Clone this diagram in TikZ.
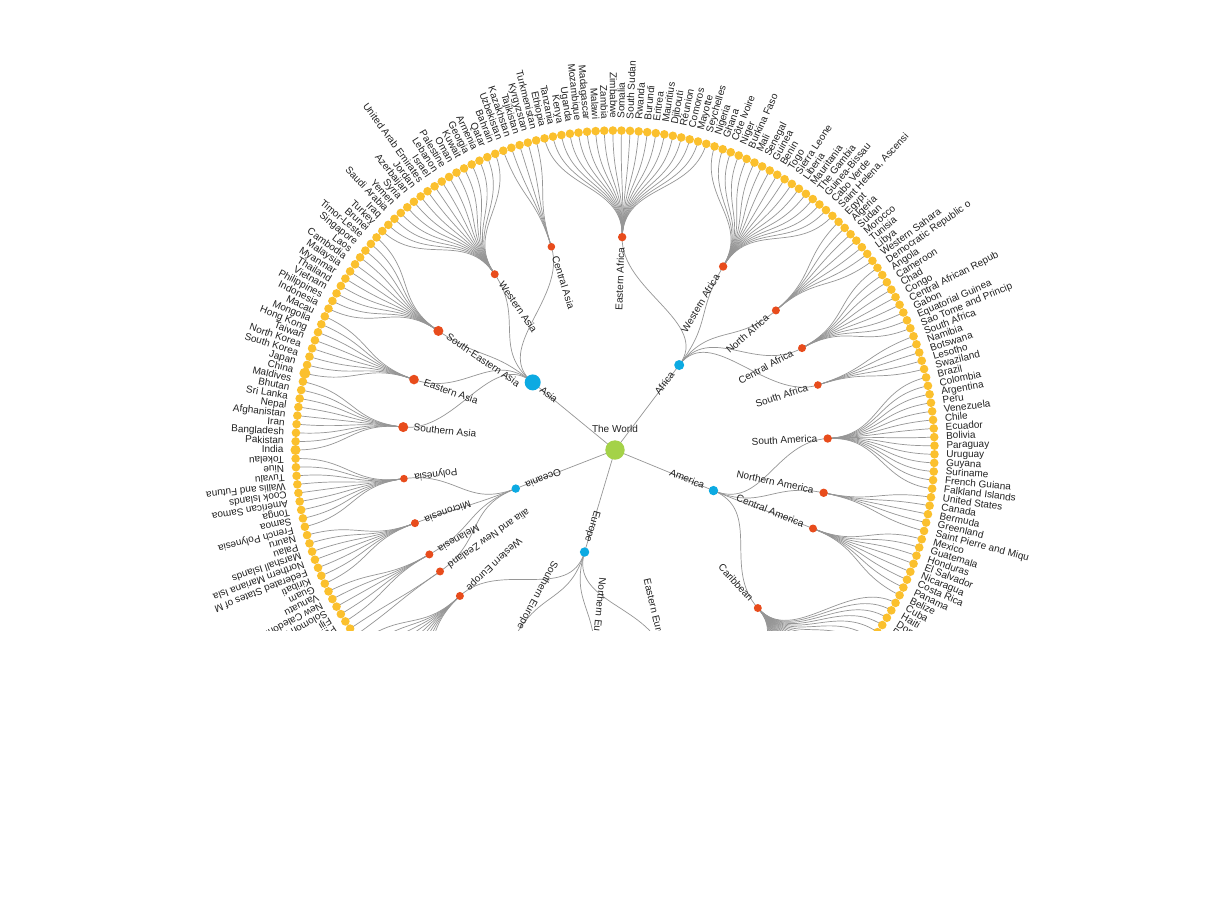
\documentclass[tikz,border=0pt]{standalone}
\usepackage{fontspec}
\setmainfont{Liberation Sans}
\definecolor{leafc}{RGB}{251,192,45}
\definecolor{regc}{RGB}{232,76,28}
\definecolor{contc}{RGB}{12,170,226}
\definecolor{rootc}{RGB}{164,210,72}
\definecolor{linkc}{RGB}{150,150,150}
\definecolor{txtc}{RGB}{34,34,34}
\newcommand\leaflab[2]{%
  \pgfmathsetmacro\lth{180-#1*\st}%
  \pgfmathtruncatemacro\lfl{(\lth>90)&&(\lth<=180.5)}%
  \ifnum\lfl=1
    \node[lab,anchor=mid east,rotate=\lth+180] (lt#1) at (\lth:331.5pt) {#2};%
  \else
    \node[lab,anchor=mid west,rotate=\lth] (lt#1) at (\lth:331.5pt) {#2};%
  \fi}
\newcommand\intlab[4]{%
  \pgfmathtruncatemacro\ifl{(#1>90)&&(#1<=180.5)}%
  \pgfmathsetmacro\irr{#2-10.5}%
  \ifnum\ifl=1
    \node[lab,anchor=mid west,rotate=#1+180] (#4) at (#1:\irr pt) {#3};%
  \else
    \node[lab,anchor=mid east,rotate=#1] (#4) at (#1:\irr pt) {#3};%
  \fi}
\begin{document}
\begin{tikzpicture}[x=1pt,y=1pt,
  link/.style={draw=linkc,line width=0.7pt},
  lab/.style={font=\fontsize{10}{12}\selectfont,text=txtc,inner sep=0pt,outer sep=0pt}]
\pgfmathsetmacro\st{360/233}
\def\RL{319.5}\def\RG{213}\def\RC{106.5}
\def\MG{266.25}\def\MC{159.75}
\useasboundingbox (-615,-450) rectangle (615,450);
\fill[white] (-615,-450) rectangle (615,450);
\def\regions{sas/0/8/asia/Southern Asia/5,
 eas/9/16/asia/Eastern Asia/4.8,
 sea/17/27/asia/South-Eastern Asia/5,
 was/28/44/asia/Western Asia/4,
 cas/45/49/asia/Central Asia/3.8,
 eaf/50/69/afr/Eastern Africa/4.2,
 waf/70/86/afr/Western Africa/4.2,
 naf/87/93/afr/North Africa/4,
 caf/94/102/afr/Central Africa/4,
 saf/103/107/afr/South Africa/3.8,
 sam/108/121/ame/South America/4.2,
 nam/122/126/ame/Northern America/4.2,
 cam/127/134/ame/Central America/4,
 car/135/160/ame/Caribbean/4,
 eeu/161/171/eur/Eastern Europe/4,
 neu/172/185/eur/Northern Europe/4,
 seu/186/200/eur/Southern Europe/4,
 weu/201/209/eur/Western Europe/4,
 anz/210/211/oce/alia and New Zealand/4,
 mel/212/216/oce/Melanesia/4,
 mic/217/223/oce/Micronesia/4,
 pol/224/232/oce/Polynesia/3.8}
\def\conts{asia/0/8/45/49/Asia/8,
 afr/50/69/103/107/Africa/5,
 ame/108/121/135/160/America/4.7,
 eur/161/171/201/209/Europe/4.7,
 oce/210/211/224/232/Oceania/4.2}
\def\namesA{India,Pakistan,Bangladesh,Iran,Afghanistan,Nepal,Sri Lanka,Bhutan,Maldives,
 China,Japan,South Korea,North Korea,Taiwan,Hong Kong,Mongolia,Macau,
 Indonesia,Philippines,Vietnam,Thailand,Myanmar,Malaysia,Cambodia,Laos,Singapore,Timor-Leste,Brunei,
 Turkey,Iraq,Saudi Arabia,Yemen,Syria,Azerbaijan,Jordan,United Arab Emirates,Israel,Lebanon,Palestine,Oman,Kuwait,Georgia,Armenia,Qatar,Bahrain,
 Uzbekistan,Kazakhstan,Tajikistan,Kyrgyzstan,Turkmenistan,
 Ethiopia,Tanzania,Kenya,Uganda,Mozambique,Madagascar,Malawi,Zambia,Zimbabwe,Somalia,South Sudan,Rwanda,Burundi,Eritrea,Mauritius,Djibouti,Réunion,Comoros,Mayotte,Seychelles,
 Nigeria,Ghana,Côte Ivoire,Niger,Burkina Faso,Mali,Senegal,Guinea,Benin,Togo,Sierra Leone,Liberia,Mauritania,The Gambia,Guinea-Bissau,Cabo Verde,{Saint Helena, Ascensi},
 Egypt,Algeria,Sudan,Morocco,Tunisia,Libya,Western Sahara,
 Democratic Republic o,Angola,Cameroon,Chad,Congo,Central African Repub,Gabon,Equatorial Guinea,Sao Tome and Princip,
 South Africa,Namibia,Botswana,Lesotho,Swaziland,
 Brazil,Colombia,Argentina,Peru,Venezuela,Chile,Ecuador,Bolivia,Paraguay,Uruguay,Guyana,Suriname,French Guiana,Falkland Islands,
 United States,Canada,Bermuda,Greenland,Saint Pierre and Miqu,
 Mexico,Guatemala,Honduras,El Salvador,Nicaragua,Costa Rica,Panama,Belize,
 Cuba,Haiti,Dominican Republic,Puerto Rico}
\def\namesB{New Zealand,Papua New Guinea,Fiji,Solomon Islands,New Caledonia,Vanuatu,
 Guam,Kiribati,Federated States of M,Northern Mariana Isla,Marshall Islands,Palau,Nauru,
 French Polynesia,Samoa,Tonga,American Samoa,Cook Islands,Wallis and Futuna,Tuvalu,Niue,Tokelau}
\begin{scope}
\clip (-615,-180) rectangle (615,450);
% ---------- positions
\coordinate (world) at (0,0);
\foreach \i in {0,...,232}{\pgfmathsetmacro\th{180-\i*\st}\coordinate (l\i) at (\th:\RL pt);}
\foreach \cid/\aa/\ab/\ba/\bb/\clab/\crad in \conts {
  \pgfmathsetmacro\th{180-\st*(\aa+\ab+\ba+\bb)/4}
  \expandafter\xdef\csname ang\cid\endcsname{\th}
  \coordinate (c\cid) at (\th:\RC pt);
}
\foreach \gid/\ga/\gb/\cid/\glab/\grad in \regions {
  \pgfmathsetmacro\th{180-\st*(\ga+\gb)/2}
  \expandafter\xdef\csname ang\gid\endcsname{\th}
  \coordinate (g\gid) at (\th:\RG pt);
}
% ---------- links
\foreach \cid/\aa/\ab/\ba/\bb/\clab/\crad in \conts { \draw[link] (world) -- (c\cid); }
\foreach \gid/\ga/\gb/\cid/\glab/\grad in \regions {
  \edef\tg{\csname ang\gid\endcsname}
  \edef\tc{\csname ang\cid\endcsname}
  \draw[link] (c\cid) .. controls (\tc:\MC pt) and (\tg:\MC pt) .. (g\gid);
  \foreach \i in {\ga,...,\gb}{
    \pgfmathsetmacro\tl{180-\i*\st}
    \draw[link] (g\gid) .. controls (\tg:\MG pt) and (\tl:\MG pt) .. (l\i);
  }
}
% ---------- dots
\foreach \i in {0,...,232}{\fill[leafc] (l\i) circle (4.3pt);}
\fill[leafc] (l0) circle (5pt);
\fill[leafc] (l9) circle (5.5pt);
\foreach \gid/\ga/\gb/\cid/\glab/\grad in \regions {\fill[regc] (g\gid) circle (\grad pt);}
\foreach \cid/\aa/\ab/\ba/\bb/\clab/\crad in \conts {\fill[contc] (c\cid) circle (\crad pt);}
\fill[rootc] (world) circle (9.7pt);
% ---------- labels
\foreach \nm [count=\k from 0] in \namesA {\leaflab{\k}{\nm}}
\foreach \nm [count=\k from 211] in \namesB {\leaflab{\k}{\nm}}
\foreach \gid/\ga/\gb/\cid/\glab/\grad in \regions {
  \edef\tg{\csname ang\gid\endcsname}
  \intlab{\tg}{\RG}{\glab}{gt\gid}
}
\foreach \cid/\aa/\ab/\ba/\bb/\clab/\crad in \conts {
  \edef\tc{\csname ang\cid\endcsname}
  \intlab{\tc}{\RC}{\clab}{ct\cid}
}
\node[lab] (worldlab) at (0,21) {The World};
\end{scope}
\end{tikzpicture}
\end{document}
